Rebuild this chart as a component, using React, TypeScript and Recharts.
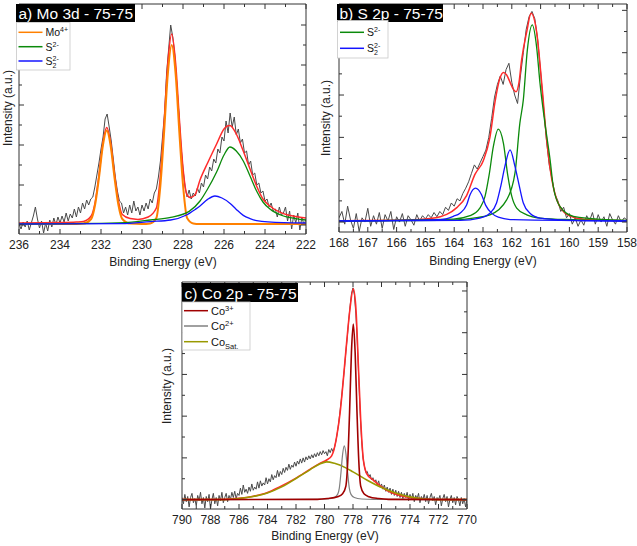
import React from 'react';
import { LineChart, Line, XAxis, YAxis } from 'recharts';

const FONT = '"Liberation Sans", Arial, Helvetica, sans-serif';
const AXIS = '#333';

type Pair = [number, number];
type Pt = { e: number; v: number };

// ---------- a) Mo 3d ----------
const moTicks = [236, 235, 234, 233, 232, 231, 230, 229, 228, 227, 226, 225, 224, 223, 222];
const moLabels = [236, 234, 232, 230, 228, 226, 224, 222];
// measured counts, 236.0 eV down to 222.0 eV in 0.1 eV steps
const moRaw = [
  0.05, -0.2, 0.15, -0.1, 0.2, -0.25, 0.1, 0.45, 0.9, 0.3,
  -0.15, 0.2, -0.4, 0.1, -0.3, 0.25, -0.1, 0.35, 0.0, 0.4,
  0.1, 0.45, 0.15, 0.6, 0.2, 0.55, 0.35, 0.8, 0.4, 0.9,
  0.6, 1.1, 0.8, 1.25, 1.0, 1.3, 1.4, 1.9, 2.5, 3.1,
  3.8, 4.4, 5.3, 5.55, 4.9, 4.2, 3.3, 2.4, 1.7, 1.2,
  1.1, 0.6, 0.9, 0.5, 1.0, 0.6, 1.2, 0.7, 0.9, 0.5,
  1.0, 0.7, 1.1, 0.8, 1.3, 1.1, 1.6, 1.8, 2.4, 3.2,
  4.4, 5.6, 7.6, 8.8, 10.0, 9.4, 8.5, 7.0, 5.6, 4.0,
  2.8, 1.9, 1.4, 1.75, 1.3, 1.6, 1.45, 1.85, 1.6, 2.1,
  1.9, 2.5, 2.3, 2.9, 2.7, 3.3, 3.1, 3.8, 3.6, 4.4,
  4.2, 5.2, 4.6, 5.6, 4.9, 5.4, 4.5, 4.8, 4.1, 4.3,
  3.6, 3.7, 3.0, 3.2, 2.5, 2.6, 2.0, 2.1, 1.6, 1.7,
  1.2, 1.3, 0.9, 1.1, 0.7, 0.8, 0.4, 0.9, 0.5, 0.6,
  0.9, 0.2, 0.7, -0.2, 0.5, 0.1, 0.6, -0.25, 0.4, 0.0,
  0.3,
];
const moEnvelope: Pair[] = [
  [236, 0.1], [234, 0.12], [233.2, 0.15], [232.86, 0.18], [232.48, 0.45], [232.29, 1.12],
  [232.1, 2.5], [231.91, 4.1], [231.72, 4.88], [231.53, 4.12], [231.34, 2.55], [231.15, 1.2],
  [230.96, 0.52], [230.58, 0.32], [230.2, 0.28], [229.7, 0.4], [229.3, 0.85], [229.11, 2.4],
  [228.93, 5.0], [228.74, 8.1], [228.55, 9.55], [228.36, 8.1], [228.17, 5.2], [227.99, 2.75],
  [227.8, 1.5], [227.65, 1.38], [227.42, 1.5], [227.17, 2.25], [226.8, 3.1], [226.36, 4.05],
  [226.0, 4.8], [225.84, 4.95], [225.71, 4.98], [225.4, 4.55], [225.06, 3.7], [224.73, 2.8],
  [224.41, 1.95], [224.1, 1.3], [223.76, 0.95], [223.1, 0.57], [222.5, 0.42], [222, 0.35],
];
const moMo4: Pair[] = [
  [236, 0.05], [233.2, 0.05], [232.86, 0.07], [232.48, 0.3], [232.29, 1.0], [232.1, 2.36],
  [231.91, 3.96], [231.72, 4.72], [231.53, 3.96], [231.34, 2.36], [231.15, 1.0], [230.96, 0.3],
  [230.58, 0.07], [230.0, 0.05], [229.6, 0.08], [229.3, 0.35], [229.11, 1.89], [228.93, 4.5],
  [228.74, 7.56], [228.55, 9.0], [228.36, 7.56], [228.17, 4.5], [227.99, 1.89], [227.8, 0.35],
  [227.5, 0.08], [227.2, 0.05], [222, 0.05],
];
const moS2: Pair[] = [
  [236, 0.05], [232, 0.08], [230.5, 0.14], [229.6, 0.25], [228.6, 0.38], [227.7, 0.68],
  [227.17, 1.2], [226.8, 1.8], [226.36, 2.65], [226.0, 3.5], [225.71, 3.9], [225.4, 3.7],
  [225.06, 3.2], [224.73, 2.45], [224.41, 1.7], [224.1, 1.15], [223.76, 0.8], [223.1, 0.45],
  [222.5, 0.32], [222, 0.25],
];
const moS22: Pair[] = [
  [236, 0.05], [231, 0.07], [229.6, 0.17], [228.6, 0.25], [227.83, 0.5], [227.4, 0.78],
  [227.17, 0.95], [226.8, 1.28], [226.44, 1.45], [226.1, 1.35], [225.7, 1.08], [225.4, 0.78],
  [225.06, 0.48], [224.73, 0.32], [224.41, 0.22], [223.1, 0.12], [222, 0.1],
];

// ---------- b) S 2p ----------
const sTicks = [
  168, 167.5, 167, 166.5, 166, 165.5, 165, 164.5, 164, 163.5, 163,
  162.5, 162, 161.5, 161, 160.5, 160, 159.5, 159, 158.5, 158,
];
const sLabels = [168, 167, 166, 165, 164, 163, 162, 161, 160, 159, 158];
// measured counts, 168.0 eV down to 158.0 eV in 0.1 eV steps
const sRaw = [
  0.2, 0.5, -0.1, 0.75, 0.1, -0.3, 0.4, -0.45, 0.2, 0.0,
  0.65, -0.2, 0.3, -0.1, 0.45, -0.3, 0.35, 0.05, 0.5, -0.35,
  0.25, 0.0, 0.4, -0.2, 0.3, 0.1, -0.15, 0.35, 0.05, 0.3,
  0.15, 0.35, 0.2, 0.45, 0.25, 0.5, 0.35, 0.7, 0.55, 0.9,
  0.75, 1.1, 1.0, 1.35, 1.6, 1.9, 2.3, 2.7, 2.5, 2.8,
  3.1, 3.4, 4.0, 4.9, 5.9, 6.5, 6.9, 6.5, 7.2, 7.5,
  6.6, 6.0, 5.6, 6.9, 8.0, 9.1, 9.7, 9.95, 9.6, 8.6,
  7.1, 5.5, 3.9, 2.7, 2.0, 1.3, 1.0, 0.5, 0.7, 0.2,
  0.4, -0.1, 0.2, -0.2, 0.1, -0.15, 0.3, 0.05, 0.45, -0.1,
  0.35, 0.0, 0.25, -0.2, 0.4, 0.1, -0.1, 0.3, 0.0, 0.2,
  0.1,
];
const sEnvelope: Pair[] = [
  [168, 0.06], [166, 0.08], [165, 0.14], [164.49, 0.25], [164.26, 0.36], [163.91, 0.68],
  [163.57, 1.25], [163.28, 2.25], [162.99, 2.9], [162.76, 4.0], [162.58, 5.7], [162.41, 6.8],
  [162.29, 7.06], [162.18, 6.95], [162.06, 6.6], [161.95, 6.28], [161.85, 6.16], [161.75, 6.6],
  [161.66, 7.65], [161.48, 9.0], [161.33, 9.86], [161.14, 9.0], [160.96, 6.55], [160.79, 3.9],
  [160.61, 2.0], [160.44, 1.05], [160.21, 0.5], [159.86, 0.23], [159.28, 0.11], [158, 0.06],
];
const sS2Main: Pair[] = [
  [168, 0.05], [164.49, 0.08], [163.34, 0.19], [162.76, 0.34], [162.18, 1.05], [161.89, 2.31],
  [161.72, 4.67], [161.6, 5.77], [161.46, 8.13], [161.29, 9.31], [161.14, 8.29], [161.02, 6.55],
  [160.85, 4.67], [160.67, 2.94], [160.56, 1.68], [160.33, 0.74], [159.86, 0.27], [158.7, 0.11],
  [158, 0.08],
];
const sS2Minor: Pair[] = [
  [168, 0.05], [164.03, 0.14], [163.45, 0.3], [163.11, 0.66], [162.93, 1.21], [162.79, 2.2],
  [162.64, 3.57], [162.47, 4.39], [162.29, 3.72], [162.14, 2.2], [162.0, 1.21], [161.83, 0.66],
  [161.48, 0.34], [161.02, 0.19], [159.86, 0.11], [158, 0.06],
];
const sS22Main: Pair[] = [
  [168, 0.05], [163.8, 0.08], [163.11, 0.19], [162.76, 0.42], [162.53, 0.9], [162.38, 1.71],
  [162.24, 2.63], [162.06, 3.41], [161.89, 2.63], [161.74, 1.71], [161.6, 0.9], [161.37, 0.42],
  [161.02, 0.19], [159.86, 0.08], [158, 0.05],
];
const sS22Minor: Pair[] = [
  [168, 0.05], [164.49, 0.11], [164.03, 0.27], [163.8, 0.42], [163.57, 0.8], [163.45, 1.29],
  [163.26, 1.6], [163.05, 1.29], [162.91, 0.8], [162.7, 0.42], [162.47, 0.23], [161.95, 0.11],
  [158, 0.05],
];

// ---------- c) Co 2p ----------
const coTicks = [
  790, 789, 788, 787, 786, 785, 784, 783, 782, 781, 780,
  779, 778, 777, 776, 775, 774, 773, 772, 771, 770,
];
const coLabels = [790, 788, 786, 784, 782, 780, 778, 776, 774, 772, 770];
// measured counts, 790.0 eV down to 770.0 eV in 0.1 eV steps
const coRaw = [
  0.1, -0.2, 0.25, -0.1, 0.15, -0.35, 0.1, 0.3, -0.15, 0.05,
  -0.3, 0.2, -0.05, 0.35, -0.2, 0.1, -0.4, 0.15, -0.1, 0.25,
  -0.45, 0.0, 0.3, -0.2, 0.1, -0.3, 0.2, -0.05, 0.35, -0.15,
  0.1, 0.3, -0.1, 0.2, 0.0, 0.35, 0.1, 0.4, 0.05, 0.3,
  0.2, 0.55, 0.25, 0.7, 0.35, 0.5, 0.3, 0.6, 0.4, 0.75,
  0.45, 0.6, 0.5, 0.85, 0.55, 0.9, 0.65, 0.8, 0.7, 1.05,
  0.75, 1.0, 0.85, 1.2, 0.95, 1.15, 1.05, 1.4, 1.1, 1.35,
  1.2, 1.5, 1.3, 1.55, 1.4, 1.7, 1.45, 1.65, 1.55, 1.8,
  1.6, 1.85, 1.7, 1.95, 1.75, 2.0, 1.8, 2.05, 1.9, 2.1,
  1.95, 2.15, 2.0, 2.2, 2.05, 2.25, 2.1, 2.3, 2.15, 2.35,
  2.2, 2.3, 2.1, 2.4, 2.25, 2.45, 2.3, 2.5, 2.8, 3.2,
  3.7, 4.3, 4.9, 5.6, 6.3, 7.1, 7.8, 8.6, 9.3, 9.9,
  10.15, 9.8, 8.9, 7.6, 5.9, 4.2, 2.9, 2.0, 1.6, 1.3,
  1.35, 1.1, 1.2, 0.95, 1.05, 0.85, 0.95, 0.7, 0.9, 0.6,
  0.75, 0.5, 0.7, 0.4, 0.6, 0.35, 0.55, 0.25, 0.5, 0.2,
  0.45, 0.15, 0.4, 0.1, 0.35, 0.05, 0.3, 0.1, 0.35, -0.05,
  0.25, 0.0, 0.3, -0.1, 0.2, 0.05, 0.3, -0.15, 0.15, 0.0,
  0.25, -0.1, 0.2, -0.2, 0.1, 0.3, -0.05, 0.15, -0.25, 0.1,
  0.0, 0.2, -0.3, 0.05, 0.25, -0.1, 0.15, -0.35, 0.0, 0.2,
  -0.15, 0.1, -0.25, 0.15, 0.0, -0.3, 0.1, -0.2, 0.05, -0.35,
  0.0,
];
const coEnvelope: Pair[] = [
  [790, 0], [787, 0.02], [786, 0.06], [785, 0.16], [784, 0.34], [783.12, 0.62], [782, 1.03],
  [781, 1.46], [780.3, 1.75], [779.85, 1.9], [779.5, 2.1], [779.38, 2.29], [779.15, 3.01],
  [778.91, 4.13], [778.68, 5.74], [778.45, 7.5], [778.22, 9.1], [777.98, 10.1], [777.79, 9.1],
  [777.63, 6.54], [777.46, 3.81], [777.27, 1.89], [777.04, 1.25], [776.58, 0.93], [775.64, 0.45],
  [774.24, 0.13], [772.6, 0.02], [770, 0],
];
const coCo3: Pair[] = [
  [790, 0], [780.5, 0.01], [779.8, 0.05], [779.08, 0.14], [778.73, 0.28], [778.5, 0.65],
  [778.37, 1.8], [778.24, 4.2], [778.11, 7.06], [777.98, 8.41], [777.85, 7.06], [777.72, 4.2],
  [777.59, 1.8], [777.46, 0.65], [777.23, 0.28], [776.88, 0.14], [776.2, 0.05], [775.5, 0.01],
  [770, 0],
];
const coCo2: Pair[] = [
  [790, 0], [780.5, 0.01], [779.8, 0.03], [779.31, 0.1], [779.08, 0.25], [778.96, 0.55],
  [778.845, 1.29], [778.73, 2.17], [778.61, 2.58], [778.49, 2.17], [778.375, 1.29], [778.26, 0.55],
  [778.14, 0.25], [777.91, 0.1], [777.4, 0.03], [776.5, 0.01], [770, 0],
];
const coSat: Pair[] = [
  [790, 0], [787, 0], [786, 0.05], [785, 0.15], [784, 0.32], [783, 0.61], [782, 1.01], [781, 1.44],
  [780.3, 1.72], [779.85, 1.81], [779.3, 1.74], [778.5, 1.52], [778, 1.33], [777, 0.93], [776, 0.58],
  [775, 0.32], [774, 0.13], [773, 0.03], [772, 0], [770, 0],
];

// intensity axis (arbitrary units), ticks only
const intensityTicks = [0, 1, 2, 3, 4, 5, 6, 7, 8, 9, 10];
const intensityMajor = [0, 2, 4, 6, 8, 10];

const pts = (rows: Pair[]): Pt[] => rows.map(([e, v]) => ({ e, v }));
const scan = (start: number, step: number, values: number[]): Pt[] =>
  values.map((v, i) => ({ e: +(start - i * step).toFixed(2), v }));

const COLORS = {
  raw: '#4a4a4a',
  fit: '#ff2b2b',
  mo: '#ff8000',
  s2: '#0b8a0b',
  s22: '#1414ff',
  co3: '#a00000',
  co2: '#808080',
  sat: '#999900',
};

type Trace = { id: string; data: Pt[]; color: string; width: number; smooth?: boolean };

const BottomTick = ({ x, y, payload, labels }: any) => {
  const major = labels.includes(payload.value);
  return (
    <g>
      <line x1={x} x2={x} y1={y} y2={y - (major ? 5 : 3)} stroke={AXIS} />
      {major && (
        <text x={x} y={y + 15} textAnchor="middle" fontFamily={FONT} fontSize={12} fill="#222">
          {payload.value}
        </text>
      )}
    </g>
  );
};

const TopTick = ({ x, y, payload, labels }: any) => {
  const major = labels.includes(payload.value);
  return <line x1={x} x2={x} y1={y} y2={y + (major ? 5 : 3)} stroke={AXIS} />;
};

const SideTick = ({ x, y, payload, dir }: any) => {
  const major = intensityMajor.includes(payload.value);
  return <line x1={x} x2={x + dir * (major ? 5 : 3)} y1={y} y2={y} stroke={AXIS} />;
};

interface PanelProps {
  left: number;
  top: number;
  width: number;
  height: number;
  // plot box inside the chart: left, top, right, bottom edges
  box: [number, number, number, number];
  xDomain: [number, number];
  xTicks: number[];
  xLabels: number[];
  yDomain: [number, number];
  traces: Trace[];
}

// axes take 1px each, so the margins stop one pixel short of the frame
const Panel: React.FC<PanelProps> = ({ left, top, width, height, box, xDomain, xTicks, xLabels, yDomain, traces }) => (
  <div style={{ position: 'absolute', left, top }}>
    <LineChart
      width={width}
      height={height}
      margin={{ left: box[0] - 1, top: box[1] - 1, right: width - box[2] - 1, bottom: height - box[3] - 1 }}
    >
      <XAxis
        xAxisId="bottom"
        dataKey="e"
        type="number"
        domain={xDomain}
        reversed
        allowDataOverflow
        ticks={xTicks}
        interval={0}
        height={1}
        tickSize={0}
        tickMargin={0}
        tickLine={false}
        axisLine={{ stroke: AXIS }}
        tick={(p: any) => <BottomTick {...p} labels={xLabels} />}
      />
      <XAxis
        xAxisId="top"
        orientation="top"
        dataKey="e"
        type="number"
        domain={xDomain}
        reversed
        allowDataOverflow
        ticks={xTicks}
        interval={0}
        height={1}
        tickSize={0}
        tickMargin={0}
        tickLine={false}
        axisLine={{ stroke: AXIS }}
        tick={(p: any) => <TopTick {...p} labels={xLabels} />}
      />
      <YAxis
        yAxisId="left"
        type="number"
        domain={yDomain}
        allowDataOverflow
        ticks={intensityTicks}
        interval={0}
        width={1}
        tickSize={0}
        tickMargin={0}
        tickLine={false}
        axisLine={{ stroke: AXIS }}
        tick={(p: any) => <SideTick {...p} dir={1} />}
      />
      <YAxis
        yAxisId="right"
        orientation="right"
        type="number"
        domain={yDomain}
        allowDataOverflow
        ticks={intensityTicks}
        interval={0}
        width={1}
        tickSize={0}
        tickMargin={0}
        tickLine={false}
        axisLine={{ stroke: AXIS }}
        tick={(p: any) => <SideTick {...p} dir={-1} />}
      />
      {traces.map((t) => (
        <Line
          key={t.id}
          xAxisId="bottom"
          yAxisId="left"
          data={t.data}
          dataKey="v"
          type={t.smooth ? 'monotone' : 'linear'}
          stroke={t.color}
          strokeWidth={t.width}
          strokeLinejoin="round"
          dot={false}
          activeDot={false}
          isAnimationActive={false}
        />
      ))}
    </LineChart>
  </div>
);

const LegendRow = ({ x, y, color, children, size }: any) => (
  <g>
    <line x1={x} x2={x + 24} y1={y} y2={y} stroke={color} strokeWidth={1.5} />
    <text x={x + 27} y={y + 3.8} fontSize={size} fill="#111">
      {children}
    </text>
  </g>
);

const Decorations = () => (
  <svg width={637} height={546} style={{ position: 'absolute', left: 0, top: 0, pointerEvents: 'none' }} fontFamily={FONT}>
    {/* panel titles */}
    <rect x={16} y={4} width={119} height={18} fill="#000" />
    <text x={18.5} y={19} fontSize={15.5} fill="#fff">a) Mo 3d - 75-75</text>
    <rect x={337} y={4} width={106} height={18} fill="#000" />
    <text x={339.5} y={19} fontSize={15.5} fill="#fff">b) S 2p - 75-75</text>
    <rect x={182} y={283} width={116} height={19} fill="#000" />
    <text x={184.5} y={298.5} fontSize={15.5} fill="#fff">c) Co 2p - 75-75</text>

    {/* legends */}
    <rect x={16.5} y={22.5} width={53.5} height={47.5} fill="#fff" stroke="#c8c8c8" strokeWidth={0.8} />
    <LegendRow x={18.5} y={32.3} color={COLORS.mo} size={10.5}>
      Mo<tspan dy={-4} fontSize={7}>4+</tspan>
    </LegendRow>
    <LegendRow x={18.5} y={46.7} color={COLORS.s2} size={10.5}>
      S<tspan dy={-4} fontSize={7}>2-</tspan>
    </LegendRow>
    <LegendRow x={18.5} y={61} color={COLORS.s22} size={10.5}>
      S<tspan dy={-4} fontSize={7}>2-</tspan>
    </LegendRow>
    <text x={52.5} y={68} fontSize={7} fill="#111">2</text>

    <rect x={337.5} y={20.5} width={50.5} height={37.5} fill="#fff" stroke="#c8c8c8" strokeWidth={0.8} />
    <LegendRow x={340} y={32.3} color={COLORS.s2} size={10.5}>
      S<tspan dy={-4} fontSize={7}>2-</tspan>
    </LegendRow>
    <LegendRow x={340} y={48.3} color={COLORS.s22} size={10.5}>
      S<tspan dy={-4} fontSize={7}>2-</tspan>
    </LegendRow>
    <text x={374} y={55.3} fontSize={7} fill="#111">2</text>

    <rect x={182.5} y={302} width={67.5} height={48} fill="#fff" stroke="#c8c8c8" strokeWidth={0.8} />
    <LegendRow x={184} y={310.7} color={COLORS.co3} size={11}>
      Co<tspan dy={-4} fontSize={7.5}>3+</tspan>
    </LegendRow>
    <LegendRow x={184} y={326} color={COLORS.co2} size={11}>
      Co<tspan dy={-4} fontSize={7.5}>2+</tspan>
    </LegendRow>
    <LegendRow x={184} y={341.7} color={COLORS.sat} size={11}>
      Co<tspan dy={3} fontSize={7.5}>Sat.</tspan>
    </LegendRow>

    {/* axis titles */}
    <text x={163} y={265.5} textAnchor="middle" fontSize={12} fill="#222">Binding Energy (eV)</text>
    <text x={483} y={265} textAnchor="middle" fontSize={12} fill="#222">Binding Energy (eV)</text>
    <text x={325} y={540} textAnchor="middle" fontSize={12} fill="#222">Binding Energy (eV)</text>
    <text transform="translate(12,108) rotate(-90)" textAnchor="middle" fontSize={12} fill="#222">Intensity (a.u.)</text>
    <text transform="translate(330,118) rotate(-90)" textAnchor="middle" fontSize={12} fill="#222">Intensity (a.u.)</text>
    <text transform="translate(171,386) rotate(-90)" textAnchor="middle" fontSize={12} fill="#222">Intensity (a.u.)</text>
  </svg>
);

const moTraces: Trace[] = [
  { id: 'raw', data: scan(236, 0.1, moRaw), color: COLORS.raw, width: 1 },
  { id: 'fit', data: pts(moEnvelope), color: COLORS.fit, width: 1.5, smooth: true },
  { id: 'mo4', data: pts(moMo4), color: COLORS.mo, width: 2, smooth: true },
  { id: 's2', data: pts(moS2), color: COLORS.s2, width: 1.3, smooth: true },
  { id: 's22', data: pts(moS22), color: COLORS.s22, width: 1.3, smooth: true },
];

const sTraces: Trace[] = [
  { id: 'raw', data: scan(168, 0.1, sRaw), color: COLORS.raw, width: 1 },
  { id: 'fit', data: pts(sEnvelope), color: COLORS.fit, width: 1.5, smooth: true },
  { id: 's2a', data: pts(sS2Main), color: COLORS.s2, width: 1.3, smooth: true },
  { id: 's2b', data: pts(sS2Minor), color: COLORS.s2, width: 1.3, smooth: true },
  { id: 's22a', data: pts(sS22Main), color: COLORS.s22, width: 1.3, smooth: true },
  { id: 's22b', data: pts(sS22Minor), color: COLORS.s22, width: 1.3, smooth: true },
];

const coTraces: Trace[] = [
  { id: 'raw', data: scan(790, 0.1, coRaw), color: COLORS.raw, width: 1 },
  { id: 'fit', data: pts(coEnvelope), color: COLORS.fit, width: 1.6, smooth: true },
  { id: 'sat', data: pts(coSat), color: COLORS.sat, width: 1.6, smooth: true },
  { id: 'co2', data: pts(coCo2), color: COLORS.co2, width: 1.2, smooth: true },
  { id: 'co3', data: pts(coCo3), color: COLORS.co3, width: 1.6, smooth: true },
];

export default function App() {
  return (
    <div style={{ position: 'absolute', left: 0, top: 0, width: 637, height: 546, background: '#fff', fontFamily: FONT }}>
      <Panel
        left={0}
        top={0}
        width={318}
        height={270}
        box={[19, 4, 306, 234]}
        xDomain={[222, 236]}
        xTicks={moTicks}
        xLabels={moLabels}
        yDomain={[-0.45, 11.05]}
        traces={moTraces}
      />
      <Panel
        left={318}
        top={0}
        width={319}
        height={270}
        box={[21, 4, 309, 232]}
        xDomain={[158, 168]}
        xTicks={sTicks}
        xLabels={sLabels}
        yDomain={[-0.47, 10.3]}
        traces={sTraces}
      />
      <Panel
        left={160}
        top={270}
        width={320}
        height={276}
        box={[22, 12, 307, 239]}
        xDomain={[770, 790]}
        xTicks={coTicks}
        xLabels={coLabels}
        yDomain={[-0.45, 10.43]}
        traces={coTraces}
      />
      <Decorations />
    </div>
  );
}
